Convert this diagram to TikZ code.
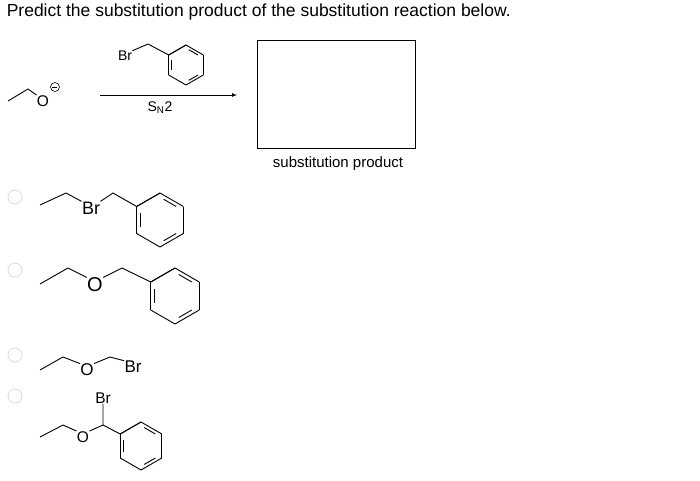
\documentclass[tikz,border=0pt]{standalone}
\usepackage{fontspec}
\setmainfont{Liberation Sans}
\begin{document}
\begin{tikzpicture}[x=1pt,y=-1pt,line width=0.9pt,
  atom/.style={inner sep=0pt,font=\fontsize{15.5}{15.5}\selectfont},
  radio/.style={draw=black!15,line width=0.8pt,circle,minimum size=14pt,inner sep=0pt},
  pics/benz/.style={code={
    \foreach \a in {90,150,...,450}{\draw (\a:#1) -- (\a+60:#1);}
    \foreach \a in {30,150,270}{\draw ({\a+10}:0.78*#1) -- ({\a+50}:0.78*#1);}
  }}]
\useasboundingbox (0,0) rectangle (700,480);
\node[anchor=west,font=\fontsize{17.5}{17.5}\selectfont] (title) at (3,12) {Predict the substitution product of the substitution reaction below.};
% reactant
\coordinate (r1) at (8,101); \coordinate (r2) at (28,89);
\node[atom] (rO) at (43,101) {O};
\draw (r1) -- (r2) -- (rO.north west);
\node[draw,circle,inner sep=0pt,minimum size=9pt,line width=0.6pt] (minus) at (55,87) {};
\draw[line width=0.6pt] (minus.west) ++(2,0) -- ++(5,0);
% reagent
\node[atom,font=\fontsize{14}{14}\selectfont] (rBr) at (125,56) {Br};
\coordinate (rc) at (148,44);
\draw (rBr.north east) -- (rc) -- (168.7,55);
\pic[yscale=-1] at (186,65) {benz=20};
\coordinate (a1) at (100,95); \coordinate (a2) at (237,95);
\draw[-latex,line width=0.7pt] (a1) -- (a2);
\node[atom,font=\fontsize{14}{14}\selectfont] (sn2) at (160,108) {S\textsubscript{N}2};
\node[draw,line width=0.7pt,minimum width=158pt,minimum height=108pt,anchor=north west] (box) at (257,40) {};
\node[font=\fontsize{15}{15}\selectfont] (lab) at (338,164) {substitution product};
% radios
\node[radio] (o1) at (15,197) {};
\node[radio] (o2) at (15,270) {};
\node[radio] (o3) at (15,355) {};
\node[radio] (o4) at (15,396) {};
% option 1
\node[atom,font=\fontsize{18}{18}\selectfont] (b1) at (91,208) {Br};
\draw (40,205) -- (66,193) -- (b1.north west);
\draw (b1.north east) -- (113,193) -- (136.6,206.5);
\pic[yscale=-1] at (160,220) {benz=27};
% option 2
\node[atom,font=\fontsize{20}{20}\selectfont] (o2O) at (95,285) {O};
\draw (40,284) -- (68,268) -- (o2O.north west);
\draw (o2O.north east) -- (122,268) -- (150.8,282);
\pic[yscale=-1] at (175,296) {benz=28};
% option 3
\node[atom,font=\fontsize{17}{17}\selectfont] (o3O) at (87,370) {O};
\node[atom,font=\fontsize{17}{17}\selectfont] (o3Br) at (133,367) {Br};
\draw (40,370) -- (63,357) -- (o3O.north west);
\draw (o3O.north east) -- (110,357) -- (o3Br.north west);
% option 4
\node[atom] (o4O) at (83,437) {O};
\node[atom] (o4Br) at (103,398) {Br};
\coordinate (c4) at (103,425);
\draw (40,437) -- (63,425) -- (o4O.north west);
\draw (o4O.north east) -- (c4) -- (o4Br.south);
\draw (c4) -- (120.2,434);
\pic[yscale=-1] at (141,446) {benz=24};
\end{tikzpicture}
\end{document}
